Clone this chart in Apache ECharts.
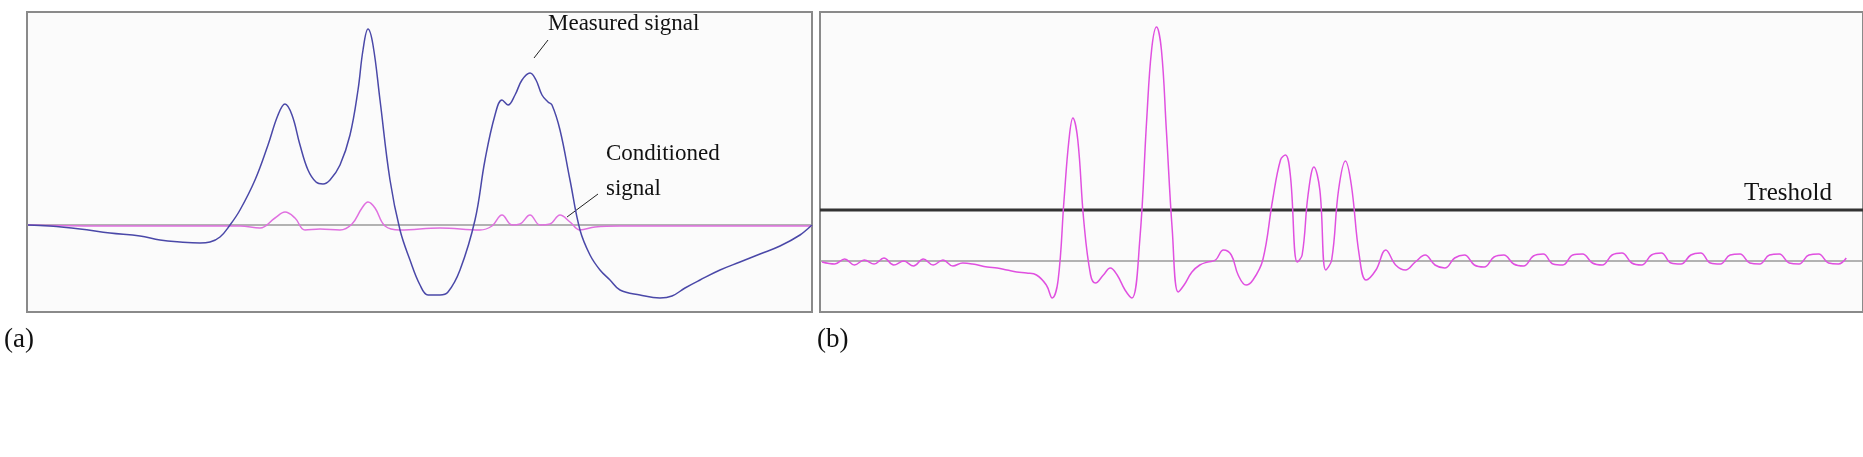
<!DOCTYPE html>
<html>
<head>
<meta charset="utf-8">
<script src="https://cdn.jsdelivr.net/npm/echarts@6/dist/echarts.min.js"></script>
<style>html,body{margin:0;padding:0;background:#fff}#main{width:1863px;height:457px}</style>
</head>
<body>
<div id="main"></div>
<script>
// panel (a): x = sample position, y = signal level (baseline 87)
var measuredA = [[28,87],[50,86],[80,83],[110,79],[140,76],[160,72],[180,70],[200,69],[210,70],[220,75],[230,87],[240,102],[255,132],[268,167],[278,197],[285,208],[292,197],[300,167],[308,142],[316,130],[323,128],[330,132],[340,147],[350,177],[358,222],[363,262],[368,283],[373,267],[380,212],[390,132],[400,82],[410,52],[420,27],[428,17],[440,17],[448,20],[460,42],[475,92],[485,152],[495,197],[502,212],[508,207],[515,217],[522,232],[530,239],[536,232],[542,217],[548,210],[552,207],[560,182],[570,132],[580,82],[590,57],[600,42],[610,32],[620,22],[640,17],[660,14],[672,16],[685,24],[700,32],[720,42],[740,50],[760,58],[780,66],[800,77],[812,87]];
var conditionedA = [[28,87],[100,86],[200,86],[240,86],[260,84],[275,94],[285,100],[295,94],[305,82],[320,83],[340,82],[352,88],[362,104],[368,110],[375,104],[385,86],[400,82],[440,84],[480,82],[492,86],[502,97],[512,87],[520,88],[530,97],[540,87],[550,88],[560,97],[570,90],[580,82],[595,85],[620,86],[700,86],[812,86]];
var baselineA = 87;

// panel (b)
var conditionedB = [[822,50],[835,48],[845,53],[855,47],[865,52],[875,48],[885,54],[895,47],[905,51],[915,46],[925,53],[935,47],[945,52],[955,46],[965,49],[975,48],[990,45],[1000,44],[1010,42],[1020,40],[1030,39],[1040,37],[1050,27],[1056,14],[1062,32],[1068,112],[1073,172],[1077,194],[1082,172],[1088,92],[1095,37],[1100,29],[1108,37],[1115,44],[1122,37],[1130,22],[1137,14],[1145,72],[1152,192],[1157,262],[1162,285],[1167,262],[1172,182],[1178,82],[1184,20],[1190,27],[1198,40],[1206,47],[1214,50],[1222,52],[1230,62],[1238,57],[1245,37],[1253,27],[1260,32],[1270,52],[1280,112],[1288,152],[1293,157],[1298,137],[1305,50],[1310,57],[1316,117],[1322,145],[1328,122],[1334,42],[1340,52],[1347,122],[1354,151],[1360,127],[1368,57],[1375,32],[1385,42],[1395,62],[1405,47],[1415,42],[1425,50],[1435,57],[1445,47],[1455,44],[1465,54],[1475,57],[1485,47],[1495,45],[1505,55],[1515,57],[1525,48],[1535,46],[1545,56],[1555,58],[1565,48],[1575,47],[1585,57],[1595,58],[1605,49],[1615,47],[1625,57],[1635,59],[1645,49],[1655,47],[1665,57],[1675,59],[1685,49],[1695,48],[1705,57],[1715,59],[1725,49],[1735,48],[1745,57],[1755,58],[1765,49],[1775,48],[1785,57],[1795,58],[1805,49],[1815,48],[1825,57],[1835,58],[1845,49],[1855,48],[1863,54]];
var baselineB = 51;
var thresholdB = 102;

var myChart = echarts.init(document.getElementById('main'));
var panelBg = '#fbfbfb', border = '#8a8a8a';
var hidden = {show: false};
function xa(idx, min, max) {
    return {type: 'value', gridIndex: idx, min: min, max: max, axisLine: hidden, axisTick: hidden, axisLabel: hidden, splitLine: hidden};
}
function ya(idx) {
    return {type: 'value', gridIndex: idx, min: 0, max: 300, axisLine: hidden, axisTick: hidden, axisLabel: hidden, splitLine: hidden};
}
function hline(idx, y, x0, x1, color, width) {
    return {type: 'line', xAxisIndex: idx, yAxisIndex: idx, data: [[x0, y], [x1, y]], symbol: 'none', silent: true,
        lineStyle: {color: color, width: width}};
}
var serif = 'Liberation Serif';
option = {
    animation: false,
    backgroundColor: '#fff',
    grid: [
        {left: 27, top: 12, width: 785, height: 300, show: true, backgroundColor: panelBg, borderColor: border, borderWidth: 2},
        {left: 820, top: 12, width: 1060, height: 300, show: true, backgroundColor: panelBg, borderColor: border, borderWidth: 2}
    ],
    xAxis: [xa(0, 27, 812), xa(1, 820, 1880)],
    yAxis: [ya(0), ya(1)],
    series: [
        hline(0, baselineA, 27, 812, '#9a9a9a', 1.5),
        {type: 'line', xAxisIndex: 0, yAxisIndex: 0, data: conditionedA, symbol: 'none', smooth: 0.4,
            lineStyle: {color: '#e070e0', width: 1.5}},
        {type: 'line', xAxisIndex: 0, yAxisIndex: 0, data: measuredA, symbol: 'none', smooth: 0.4,
            lineStyle: {color: '#4a48a8', width: 1.5}},
        hline(1, baselineB, 820, 1880, '#9a9a9a', 1.5),
        hline(1, thresholdB, 820, 1880, '#333', 3),
        {type: 'line', xAxisIndex: 1, yAxisIndex: 1, data: conditionedB, symbol: 'none', smooth: 0.4,
            lineStyle: {color: '#e050e0', width: 1.5}}
    ],
    graphic: [
        {type: 'text', left: 548, top: 12, style: {text: 'Measured signal', font: '23px "' + serif + '"', fill: '#111'}},
        {type: 'line', shape: {x1: 534, y1: 58, x2: 548, y2: 40}, style: {stroke: '#222', lineWidth: 1}},
        {type: 'text', left: 606, top: 142, style: {text: 'Conditioned', font: '23px "' + serif + '"', fill: '#111'}},
        {type: 'text', left: 606, top: 177, style: {text: 'signal', font: '23px "' + serif + '"', fill: '#111'}},
        {type: 'line', shape: {x1: 567, y1: 217, x2: 598, y2: 194}, style: {stroke: '#222', lineWidth: 1}},
        {type: 'text', left: 1744, top: 181, style: {text: 'Treshold', font: '25px "' + serif + '"', fill: '#111'}},
        {type: 'text', left: 4, top: 326, style: {text: '(a)', font: '27px "' + serif + '"', fill: '#111'}},
        {type: 'text', left: 817, top: 326, style: {text: '(b)', font: '27px "' + serif + '"', fill: '#111'}}
    ]
};
myChart.setOption(option);
window.addEventListener("resize", function () {
    myChart.resize();
});
</script>
</body>
</html>
